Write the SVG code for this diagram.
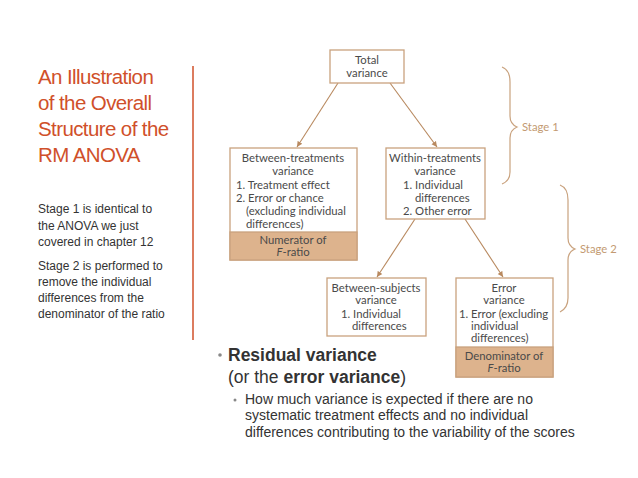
<svg xmlns="http://www.w3.org/2000/svg" width="638" height="478" viewBox="0 0 638 478">
<style>
.b{fill:#fff;stroke:#c9a27e;stroke-width:1.3}
.t{fill:#ddb38d;stroke:#c9a27e;stroke-width:1.3}
.n{font-family:"Lato","Liberation Sans",sans-serif;font-size:11.3px;fill:#4a4a4a}
.c{text-anchor:middle}
.ti{font-family:"Liberation Sans Narrow","Liberation Sans",sans-serif;font-size:20.5px;fill:#d0502a;letter-spacing:-0.6px}
.l{font-family:"Liberation Sans",sans-serif;font-size:12px;fill:#333}
.w{font-family:"Liberation Sans",sans-serif;fill:#333}
.ln{stroke:#b8895f;stroke-width:1.1;fill:none}
.br{stroke:#c9a27e;stroke-width:1.2;fill:none}
</style>
<defs><marker id="a" markerWidth="6" markerHeight="6" refX="5" refY="3" orient="auto"><path d="M0,0.5 L5,3 L0,5.5z" fill="#b8895f"/></marker></defs>
<rect width="638" height="478" fill="#fff"/>
<g id="title"><text class="ti"><tspan x="38" y="84">An Illustration</tspan><tspan x="38" y="110">of the Overall</tspan><tspan x="38" y="136">Structure of the</tspan><tspan x="38" y="162">RM ANOVA</tspan></text></g>
<g id="notes"><text class="l"><tspan x="38" y="213">Stage 1 is identical to</tspan><tspan x="38" y="230">the ANOVA we just</tspan><tspan x="38" y="246">covered in chapter 12</tspan><tspan x="38" y="270">Stage 2 is performed to</tspan><tspan x="38" y="286">remove the individual</tspan><tspan x="38" y="302">differences from the</tspan><tspan x="38" y="318">denominator of the ratio</tspan></text></g>
<line x1="193" y1="66" x2="193" y2="340" stroke="#d0502a" stroke-width="1.5"/>
<g id="connectors">
<line class="ln" x1="338" y1="83" x2="297" y2="147" marker-end="url(#a)"/>
<line class="ln" x1="390" y1="83" x2="437" y2="147" marker-end="url(#a)"/>
<line class="ln" x1="415" y1="219" x2="377" y2="277" marker-end="url(#a)"/>
<line class="ln" x1="465" y1="219" x2="503" y2="277" marker-end="url(#a)"/>
</g>
<g id="total"><rect class="b" x="330" y="50" width="74" height="33"/><text class="n c"><tspan x="367" y="64">Total</tspan><tspan x="367" y="77">variance</tspan></text></g>
<g id="between"><rect class="b" x="230" y="148" width="127" height="112"/><rect class="t" x="230" y="232" width="127" height="28"/>
<text class="n c"><tspan x="293" y="162">Between-treatments</tspan><tspan x="293" y="175">variance</tspan></text>
<text class="n"><tspan x="236" y="189">1. Treatment effect</tspan><tspan x="236" y="202">2. Error or chance</tspan><tspan x="246" y="215">(excluding individual</tspan><tspan x="246" y="228">differences)</tspan></text>
<text class="n c"><tspan x="293" y="244">Numerator of</tspan><tspan x="293" y="256"><tspan font-style="italic">F</tspan>-ratio</tspan></text></g>
<g id="within"><rect class="b" x="386" y="148" width="99" height="71"/>
<text class="n c"><tspan x="435" y="162">Within-treatments</tspan><tspan x="435" y="175">variance</tspan></text>
<text class="n"><tspan x="403" y="189">1. Individual</tspan><tspan x="415" y="202">differences</tspan><tspan x="403" y="215">2. Other error</tspan></text></g>
<g id="subjects"><rect class="b" x="327" y="278" width="99" height="58"/>
<text class="n c"><tspan x="376" y="292">Between-subjects</tspan><tspan x="376" y="304">variance</tspan></text>
<text class="n"><tspan x="341" y="318">1. Individual</tspan><tspan x="352" y="330">differences</tspan></text></g>
<g id="error"><rect class="b" x="456" y="278" width="97" height="99"/><rect class="t" x="456" y="347" width="97" height="30"/>
<text class="n c"><tspan x="504" y="292">Error</tspan><tspan x="504" y="304">variance</tspan></text>
<text class="n"><tspan x="459" y="318">1. Error (excluding</tspan><tspan x="471" y="330">individual</tspan><tspan x="471" y="342">differences)</tspan></text>
<text class="n c"><tspan x="504" y="360">Denominator of</tspan><tspan x="504" y="372"><tspan font-style="italic">F</tspan>-ratio</tspan></text></g>
<g id="stage1"><path class="br" d="M502,67 Q510,70 510,82 L510,116 Q510,124 517,127 Q510,130 510,138 L510,172 Q510,181 502,184"/><text class="n" x="522" y="131" style="fill:#c39a72">Stage 1</text></g>
<g id="stage2"><path class="br" d="M560,185 Q568,188 568,200 L568,238 Q568,246 575,249 Q568,252 568,260 L568,298 Q568,308 560,312"/><text class="n" x="580" y="253" style="fill:#c39a72">Stage 2</text></g>
<g id="bullets">
<circle cx="220" cy="355" r="1.8" fill="#888"/>
<text class="w" font-size="17.5"><tspan x="228" y="361" font-weight="bold">Residual variance</tspan><tspan x="228" y="383">(<tspan font-weight="normal">or the </tspan><tspan font-weight="bold">error variance</tspan>)</tspan></text>
<circle cx="235" cy="400" r="1.5" fill="#888"/>
<text class="w" font-size="14"><tspan x="245" y="404">How much variance is expected if there are no</tspan><tspan x="245" y="420">systematic treatment effects and no individual</tspan><tspan x="245" y="437">differences contributing to the variability of the scores</tspan></text>
</g>
</svg>
